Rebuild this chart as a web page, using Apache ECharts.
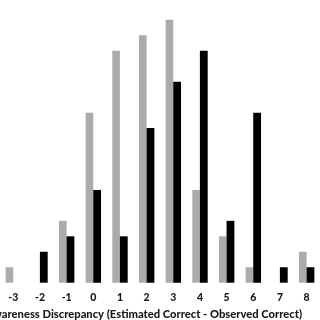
<!DOCTYPE html>
<html>
<head>
<meta charset="utf-8">
<title>discrepancy</title>
<script src="https://cdn.jsdelivr.net/npm/echarts@6/dist/echarts.min.js"></script>
<style>
  html, body { margin: 0; padding: 0; background: #fff; }
  #main { width: 320px; height: 320px; }
</style>
</head>
<body>
<div id="main"></div>
<script type="text/javascript">
    // categories on the x axis (discrepancy values)
    var categories = ['-3', '-2', '-1', '0', '1', '2', '3', '4', '5', '6', '7', '8'];
    // gray bars (left one of each pair)
    var grayValues = [1, 0, 4, 11, 15, 16, 17, 6, 3, 1, 0, 2];
    // black bars (right one of each pair)
    var blackValues = [0, 2, 3, 6, 3, 10, 13, 15, 4, 11, 1, 1];
    var axisTitle = 'Awareness Discrepancy (Estimated Correct - Observed Correct)';

    var myChart = echarts.init(document.getElementById('main'));

    myChart.setOption({
        animation: false,
        title: {
            text: axisTitle,
            right: 13,
            top: 303.5,
            textStyle: {
                fontFamily: 'Lato',
                fontWeight: 900,
                fontSize: 11.2,
                color: '#1a1a1a'
            }
        },
        grid: {
            left: -3,
            right: -3,
            top: 4.4,
            bottom: 37.3
        },
        xAxis: {
            type: 'category',
            data: categories,
            axisLine: { show: false },
            axisTick: { show: false },
            axisLabel: {
                margin: 9,
                fontFamily: 'Lato',
                fontWeight: 900,
                fontSize: 10.5,
                color: '#1a1a1a'
            }
        },
        yAxis: {
            type: 'value',
            min: 0,
            max: 18,
            show: false,
            splitLine: { show: false }
        },
        series: [
            {
                type: 'bar',
                data: grayValues,
                barWidth: 7.6,
                barGap: '0%',
                itemStyle: { color: '#ababab' }
            },
            {
                type: 'bar',
                data: blackValues,
                barWidth: 7.8,
                itemStyle: { color: '#000000' }
            }
        ]
    });
</script>
</body>
</html>
